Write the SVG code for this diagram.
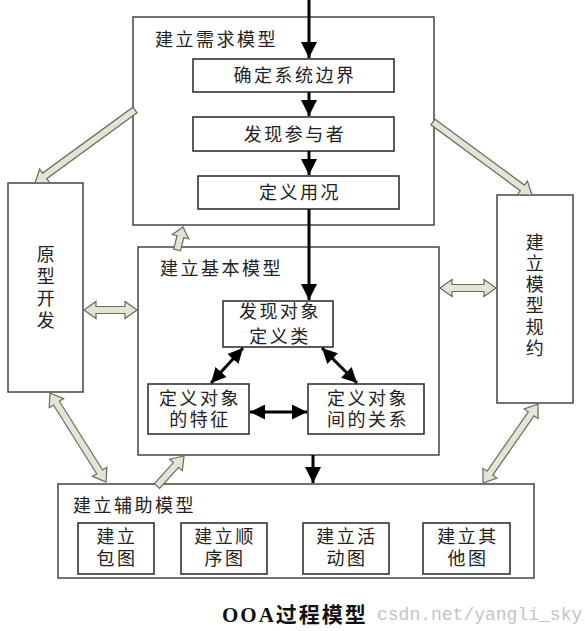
<svg xmlns="http://www.w3.org/2000/svg" width="585" height="631" viewBox="0 0 585 631">
<defs>
<style>
.box{fill:#fff;stroke:#444;stroke-width:1.5}
.ibox{fill:#fff;stroke:#333;stroke-width:1.6}
.t{font-family:"Liberation Serif","Noto Sans CJK SC",serif;font-size:18px;fill:#222;letter-spacing:2.5px}
.c{text-anchor:middle}
.ha{fill:#e4e4d4;stroke:#6a6a60;stroke-width:1.2;stroke-linejoin:miter}
.blk{stroke:#000;stroke-width:3;fill:none}
</style>
<marker id="ah" viewBox="0 0 10 10" refX="10" refY="5" markerWidth="5.5" markerHeight="6.5" markerUnits="strokeWidth" orient="auto">
<path d="M0,0 L10,5 L0,10 z" fill="#000"/>
</marker>
<marker id="ahs" viewBox="0 0 10 10" refX="10" refY="5" markerWidth="5" markerHeight="5" markerUnits="strokeWidth" orient="auto-start-reverse">
<path d="M0,0 L10,5 L0,10 z" fill="#000"/>
</marker>
</defs>
<rect width="585" height="631" fill="#fff"/>

<g id="req">
<rect class="box" x="133" y="17" width="301" height="208"/>
<text class="t" x="155" y="46">建立需求模型</text>
</g>
<g id="boundary">
<rect class="ibox" x="193" y="59" width="201" height="33"/>
<text class="t c" x="295" y="82">确定系统边界</text>
</g>
<g id="actor">
<rect class="ibox" x="193" y="117" width="201" height="34"/>
<text class="t c" x="295" y="141">发现参与者</text>
</g>
<g id="usecase">
<rect class="ibox" x="198" y="176" width="201" height="33"/>
<text class="t c" x="300" y="199">定义用况</text>
</g>

<g id="proto">
<rect class="box" x="8" y="183" width="75" height="209"/>
<text class="t c" x="47" y="261">原</text>
<text class="t c" x="47" y="283">型</text>
<text class="t c" x="47" y="305">开</text>
<text class="t c" x="47" y="327">发</text>
</g>

<g id="spec">
<rect class="box" x="497" y="195" width="76" height="208"/>
<text class="t c" x="536" y="249">建</text>
<text class="t c" x="536" y="270">立</text>
<text class="t c" x="536" y="291">模</text>
<text class="t c" x="536" y="312">型</text>
<text class="t c" x="536" y="334">规</text>
<text class="t c" x="536" y="355">约</text>
</g>

<g id="basic">
<rect class="box" x="138" y="247" width="301" height="208"/>
<text class="t" x="160" y="275">建立基本模型</text>
</g>
<g id="findobj">
<rect class="ibox" x="223" y="301" width="110" height="46"/>
<text class="t c" x="280" y="318">发现对象</text>
<text class="t c" x="280" y="343">定义类</text>
</g>
<g id="feature">
<rect class="ibox" x="148" y="384" width="101" height="50"/>
<text class="t c" x="200" y="405">定义对象</text>
<text class="t c" x="200" y="426">的特征</text>
</g>
<g id="relation">
<rect class="ibox" x="308" y="384" width="116" height="50"/>
<text class="t c" x="368" y="405">定义对象</text>
<text class="t c" x="368" y="426">间的关系</text>
</g>

<g id="aux">
<rect class="box" x="58" y="484" width="476" height="94"/>
<text class="t" x="73" y="512">建立辅助模型</text>
</g>
<g id="pkg">
<rect class="ibox" x="78" y="523" width="76" height="51"/>
<text class="t c" x="117" y="543">建立</text>
<text class="t c" x="117" y="565">包图</text>
</g>
<g id="seq">
<rect class="ibox" x="181" y="523" width="86" height="51"/>
<text class="t c" x="225" y="543">建立顺</text>
<text class="t c" x="225" y="565">序图</text>
</g>
<g id="act">
<rect class="ibox" x="303" y="523" width="86" height="51"/>
<text class="t c" x="347" y="543">建立活</text>
<text class="t c" x="347" y="565">动图</text>
</g>
<g id="other">
<rect class="ibox" x="423" y="523" width="87" height="51"/>
<text class="t c" x="468" y="543">建立其</text>
<text class="t c" x="468" y="565">他图</text>
</g>

<g id="connectors">
<line class="blk" x1="309" y1="0" x2="309" y2="58" marker-end="url(#ah)"/>
<line class="blk" x1="309" y1="92" x2="309" y2="116" marker-end="url(#ah)"/>
<line class="blk" x1="309" y1="151" x2="309" y2="175" marker-end="url(#ah)"/>
<line class="blk" x1="309" y1="209" x2="309" y2="300" marker-end="url(#ah)"/>
<line class="blk" x1="313" y1="455" x2="313" y2="483" marker-end="url(#ah)"/>
<line class="blk" x1="250" y1="412" x2="307" y2="412" marker-start="url(#ahs)" marker-end="url(#ahs)"/>
<line class="blk" x1="243" y1="348" x2="211" y2="383" marker-start="url(#ahs)" marker-end="url(#ahs)"/>
<line class="blk" x1="322" y1="348" x2="357" y2="383" marker-start="url(#ahs)" marker-end="url(#ahs)"/>

<polygon class="ha" transform="translate(135,110) rotate(143.9)" points="0,-3.5 111.8,-3.5 111.8,-8.5 123.8,0 111.8,8.5 111.8,3.5 0,3.5"/>
<polygon class="ha" transform="translate(433,122) rotate(36.4)" points="0,-3.5 111,-3.5 111,-8.5 123,0 111,8.5 111,3.5 0,3.5"/>
<polygon class="ha" transform="translate(177,250) rotate(-75.4)" points="0,-3.5 13.8,-3.5 13.8,-8.5 23.8,0 13.8,8.5 13.8,3.5 0,3.5"/>
<polygon class="ha" transform="translate(84,310)" points="0,0 12,-8.5 12,-3.5 41,-3.5 41,-8.5 53,0 41,8.5 41,3.5 12,3.5 12,8.5"/>
<polygon class="ha" transform="translate(440,288)" points="0,0 12,-8.5 12,-3.5 44,-3.5 44,-8.5 56,0 44,8.5 44,3.5 12,3.5 12,8.5"/>
<polygon class="ha" transform="translate(50,393) rotate(57.8)" points="0,0 12,-8.5 12,-3.5 93.2,-3.5 93.2,-8.5 105.2,0 93.2,8.5 93.2,3.5 12,3.5 12,8.5"/>
<polygon class="ha" transform="translate(157,486) rotate(-48)" points="0,-3.5 28.4,-3.5 28.4,-8.5 40.4,0 28.4,8.5 28.4,3.5 0,3.5"/>
<polygon class="ha" transform="translate(538,404) rotate(124.8)" points="0,0 12,-8.5 12,-3.5 84.3,-3.5 84.3,-8.5 96.3,0 84.3,8.5 84.3,3.5 12,3.5 12,8.5"/>
</g>

<text x="377" y="620" style="font-family:'Liberation Mono',monospace;font-size:18px;fill:#c4c4c4">csdn.net/yangli_sky</text>
<text x="222" y="622" style="font-family:'Liberation Serif','Noto Sans CJK SC',serif;font-size:21px;font-weight:bold;fill:#111;letter-spacing:2px">OOA过程模型</text>
</svg>
